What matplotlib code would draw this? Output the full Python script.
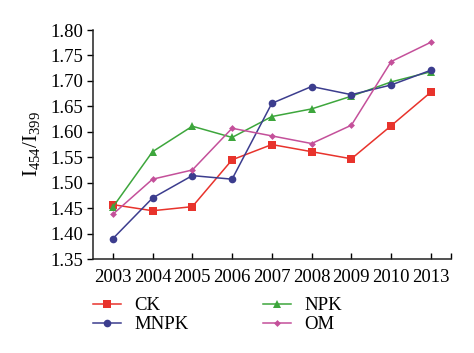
import matplotlib
matplotlib.use("Agg")
import matplotlib.pyplot as plt

years = ["2003", "2004", "2005", "2006", "2007", "2008", "2009", "2010", "2013"]
ck = [1.457, 1.445, 1.453, 1.545, 1.575, 1.561, 1.547, 1.612, 1.678]
mnpk = [1.390, 1.470, 1.514, 1.507, 1.656, 1.689, 1.673, 1.692, 1.721]
npk = [1.452, 1.561, 1.611, 1.589, 1.630, 1.645, 1.670, 1.698, 1.718]
om = [1.438, 1.507, 1.525, 1.607, 1.592, 1.577, 1.613, 1.738, 1.776]
yticks = [1.35, 1.40, 1.45, 1.50, 1.55, 1.60, 1.65, 1.70, 1.75, 1.80]

plt.rcParams['font.family'] = ['Liberation Serif', 'DejaVu Serif']
plt.rcParams['mathtext.fontset'] = 'custom'
plt.rcParams['mathtext.rm'] = 'Liberation Serif'
plt.rcParams['mathtext.it'] = 'Liberation Serif'

fig = plt.figure(figsize=(4.74, 3.53), dpi=100)
ax = fig.add_axes([0.196, 0.266, 0.755, 0.649])

x = list(range(len(years)))
series = [
    ("CK", ck, "#e8332c", "s", 5.5),
    ("NPK", npk, "#3da63c", "^", 5.5),
    ("MNPK", mnpk, "#3c3d8e", "o", 5.5),
    ("OM", om, "#c4509a", "D", 3.5),
]
handles = {}
for name, vals, col, mk, ms in series:
    h, = ax.plot(x, vals, color=col, marker=mk, markersize=ms, linewidth=1.1,
                 markeredgewidth=0, label=name)
    handles[name] = h

ax.set_xlim(-0.5, len(years) - 0.5)
ax.set_ylim(1.35, 1.80)
ax.set_xticks(x)
ax.set_xticklabels(years)
ax.set_xticks([len(years) - 0.5], minor=True)
ax.set_yticks(yticks)
ax.set_yticklabels([f"{v:.2f}" for v in yticks])
ax.tick_params(axis='x', direction='in', length=4, width=1, labelsize=13.5, pad=7)
ax.tick_params(axis='x', which='minor', direction='in', length=4, width=1)
ax.tick_params(axis='y', direction='out', length=4, width=1, labelsize=13.5, pad=3)
for s in ['top', 'right']:
    ax.spines[s].set_visible(False)
for s in ['left', 'bottom']:
    ax.spines[s].set_linewidth(1.1)
    ax.spines[s].set_color('#222222')

ax.set_ylabel(r'$\mathregular{I_{454}/I_{399}}$', fontsize=15, labelpad=6)

order = ["CK", "MNPK", "NPK", "OM"]
fig.legend([handles[n] for n in order], order, loc='upper left',
           bbox_to_anchor=(0.18, 0.18), ncol=2, frameon=False, fontsize=13.5,
           handlelength=1.5, columnspacing=4.0, labelspacing=0.12,
           handletextpad=0.7, borderaxespad=0)

fig.savefig("out.png", dpi=100)
